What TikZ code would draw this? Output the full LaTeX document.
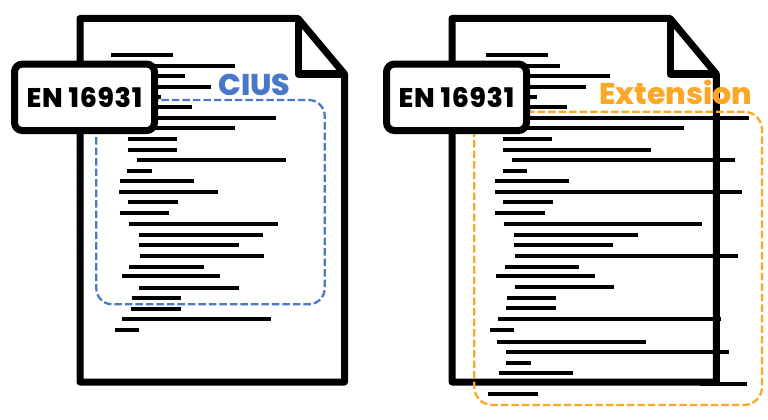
\documentclass[tikz,border=0pt]{standalone}
\usepackage{fontspec}
\setmainfont{Poppins}[BoldFont={Poppins ExtraBold}]
\newfontfamily\tagface{Poppins ExtraBold}[LetterSpace=2.5]
\definecolor{ciusblue}{HTML}{4A78C9}
\definecolor{extorange}{HTML}{FDA726}
\newcommand{\tagfontset}{\fontsize{27}{30}\selectfont\tagface}
\tikzset{
  frameline/.style={draw=black,line width=7pt,line join=round},
  textline/.style={draw=black,line width=4pt},
  dashbox/.style={line width=2.3pt,rounded corners=16pt,dash pattern=on 7.5pt off 3pt},
  tagbox/.style={draw=black,fill=white,line width=7pt,rounded corners=8pt,minimum width=140pt,minimum height=66.5pt,inner sep=0pt,font=\tagfontset},
  bigword/.style={inner sep=0pt,font=\fontsize{30}{34}\selectfont\bfseries}
}
\begin{document}
\begin{tikzpicture}[x=1pt,y=-1pt]
\useasboundingbox (0,0) rectangle (768,420);
\fill[white] (0,0) rectangle (768,420);
% left document
\draw[frameline] (80,18.5) -- (298,18.5) -- (344.5,74) -- (344.5,382) -- (80,382) -- cycle;
\draw[frameline] (298,18.5) -- (298,74) -- (344.5,74);
\foreach \xa/\xb/\yy in {111/173/55,130/235/65.7,130/185/76,130/210.7/86.7,130/161/97,130/192.3/107.3,130/275.7/118,130/235.3/128.3,127.7/177.3/139,127.7/177.3/149.7,137/285.7/160.3,127.3/152.3/171,119.7/194/181.3,119.3/218.3/191.7,128.3/177.7/202.3,119.7/169.3/213,129/277.7/224.3,139.3/263.3/235,139.3/238.7/245.3,140/264/256,129.3/203.7/266.7,121.7/220.3/276,139.3/238.7/287.7,131.7/181.3/298.3,131/180.7/308.7,122.3/271/319.3,114.7/139.3/329.7}
  \draw[textline] (\xa,\yy) -- (\xb,\yy);
\draw[dashbox,draw=ciusblue] (96.3,100) rectangle (324.7,304.3);
\node[bigword,text=ciusblue] (cius) at (254.5,84.6) {CIUS};
\node[tagbox] (tagleft) at (84.5,97.3) {EN 16931};
% right document
\draw[frameline] (452,18.5) -- (670,18.5) -- (716.3,74) -- (716.3,382) -- (452,382) -- cycle;
\draw[frameline] (670,18.5) -- (670,74) -- (716.3,74);
\foreach \xa/\xb/\yy in {486/548/55,505/560.3/65.7,505/610/76,505/585.7/86.7,505/536.7/97,505/567.3/107.3,505/749.3/118,505/684.3/128.3,502.7/552.3/139,502.7/651/149.7,512.3/735/160.3,502.7/527.3/171,494.7/569/181.3,494.7/742.3/191.7,503.3/552.7/202.3,495/544.7/213,503.7/702/224.3,514.3/638.3/235,514.3/613.3/245.3,514.7/737.7/256,504.7/579/266.7,496.3/595.3/276,514.7/614/287.3,506.7/556.3/298,506.3/556/308.3,497.7/720.7/319.3,489.7/514.3/329.7,497.3/645.7/341.7,506.3/729.3/352,506.3/531/362.7,498.7/573/373,700/747/383.7,488.3/538/394}
  \draw[textline] (\xa,\yy) -- (\xb,\yy);
\draw[dashbox,draw=extorange,rounded corners=18pt] (474.3,111.7) rectangle (762,405);
\node[bigword,text=extorange] (ext) at (675.7,92.5) {Extension};
\node[tagbox] (tagright) at (456.5,97.3) {EN 16931};
\end{tikzpicture}
\end{document}
